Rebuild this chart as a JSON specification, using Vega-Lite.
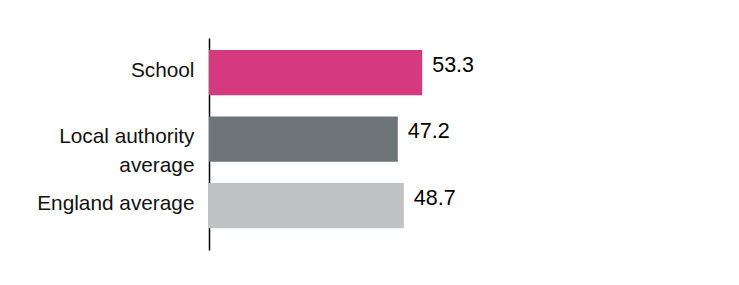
{
  "$schema": "https://vega.github.io/schema/vega-lite/v6.json",
  "width": 400,
  "height": 212,
  "autosize": {"type": "none"},
  "padding": {"left": 209, "top": 38, "right": 130, "bottom": 35},
  "background": "white",
  "config": {"view": {"stroke": null}},
  "data": {
    "values": [
      {"category": "School", "value": 53.3},
      {"category": "Local authority average", "value": 47.2},
      {"category": "England average", "value": 48.7}
    ]
  },
  "encoding": {
    "y": {
      "field": "category",
      "type": "nominal",
      "sort": null,
      "scale": {"paddingInner": 0.32, "paddingOuter": 0.254, "align": 0.355},
      "axis": {
        "title": null,
        "ticks": false,
        "domainColor": "#000000",
        "domainWidth": 1.5,
        "labelFont": "Liberation Sans",
        "labelFontSize": 20.8,
        "labelColor": "#111111",
        "labelPadding": 15,
        "labelBaseline": "alphabetic",
        "labelOffset": 4,
        "labelLineHeight": 29,
        "labelLimit": 300,
        "labelExpr": "datum.label == 'Local authority average' ? ['Local authority', 'average'] : datum.label"
      }
    }
  },
  "layer": [
    {
      "mark": {"type": "bar"},
      "encoding": {
        "x": {"field": "value", "type": "quantitative", "scale": {"domain": [0, 100]}, "axis": null},
        "color": {
          "field": "category",
          "type": "nominal",
          "scale": {
            "domain": ["School", "Local authority average", "England average"],
            "range": ["#d5397f", "#6e7579", "#c0c1c2"]
          },
          "legend": null
        }
      }
    },
    {
      "mark": {"type": "text", "align": "left", "baseline": "middle", "dx": 10, "dy": -7, "fontSize": 21.5, "font": "Liberation Sans", "color": "#000000"},
      "encoding": {
        "x": {"field": "value", "type": "quantitative"},
        "text": {"field": "value", "type": "quantitative", "format": ".1f"}
      }
    }
  ]
}
